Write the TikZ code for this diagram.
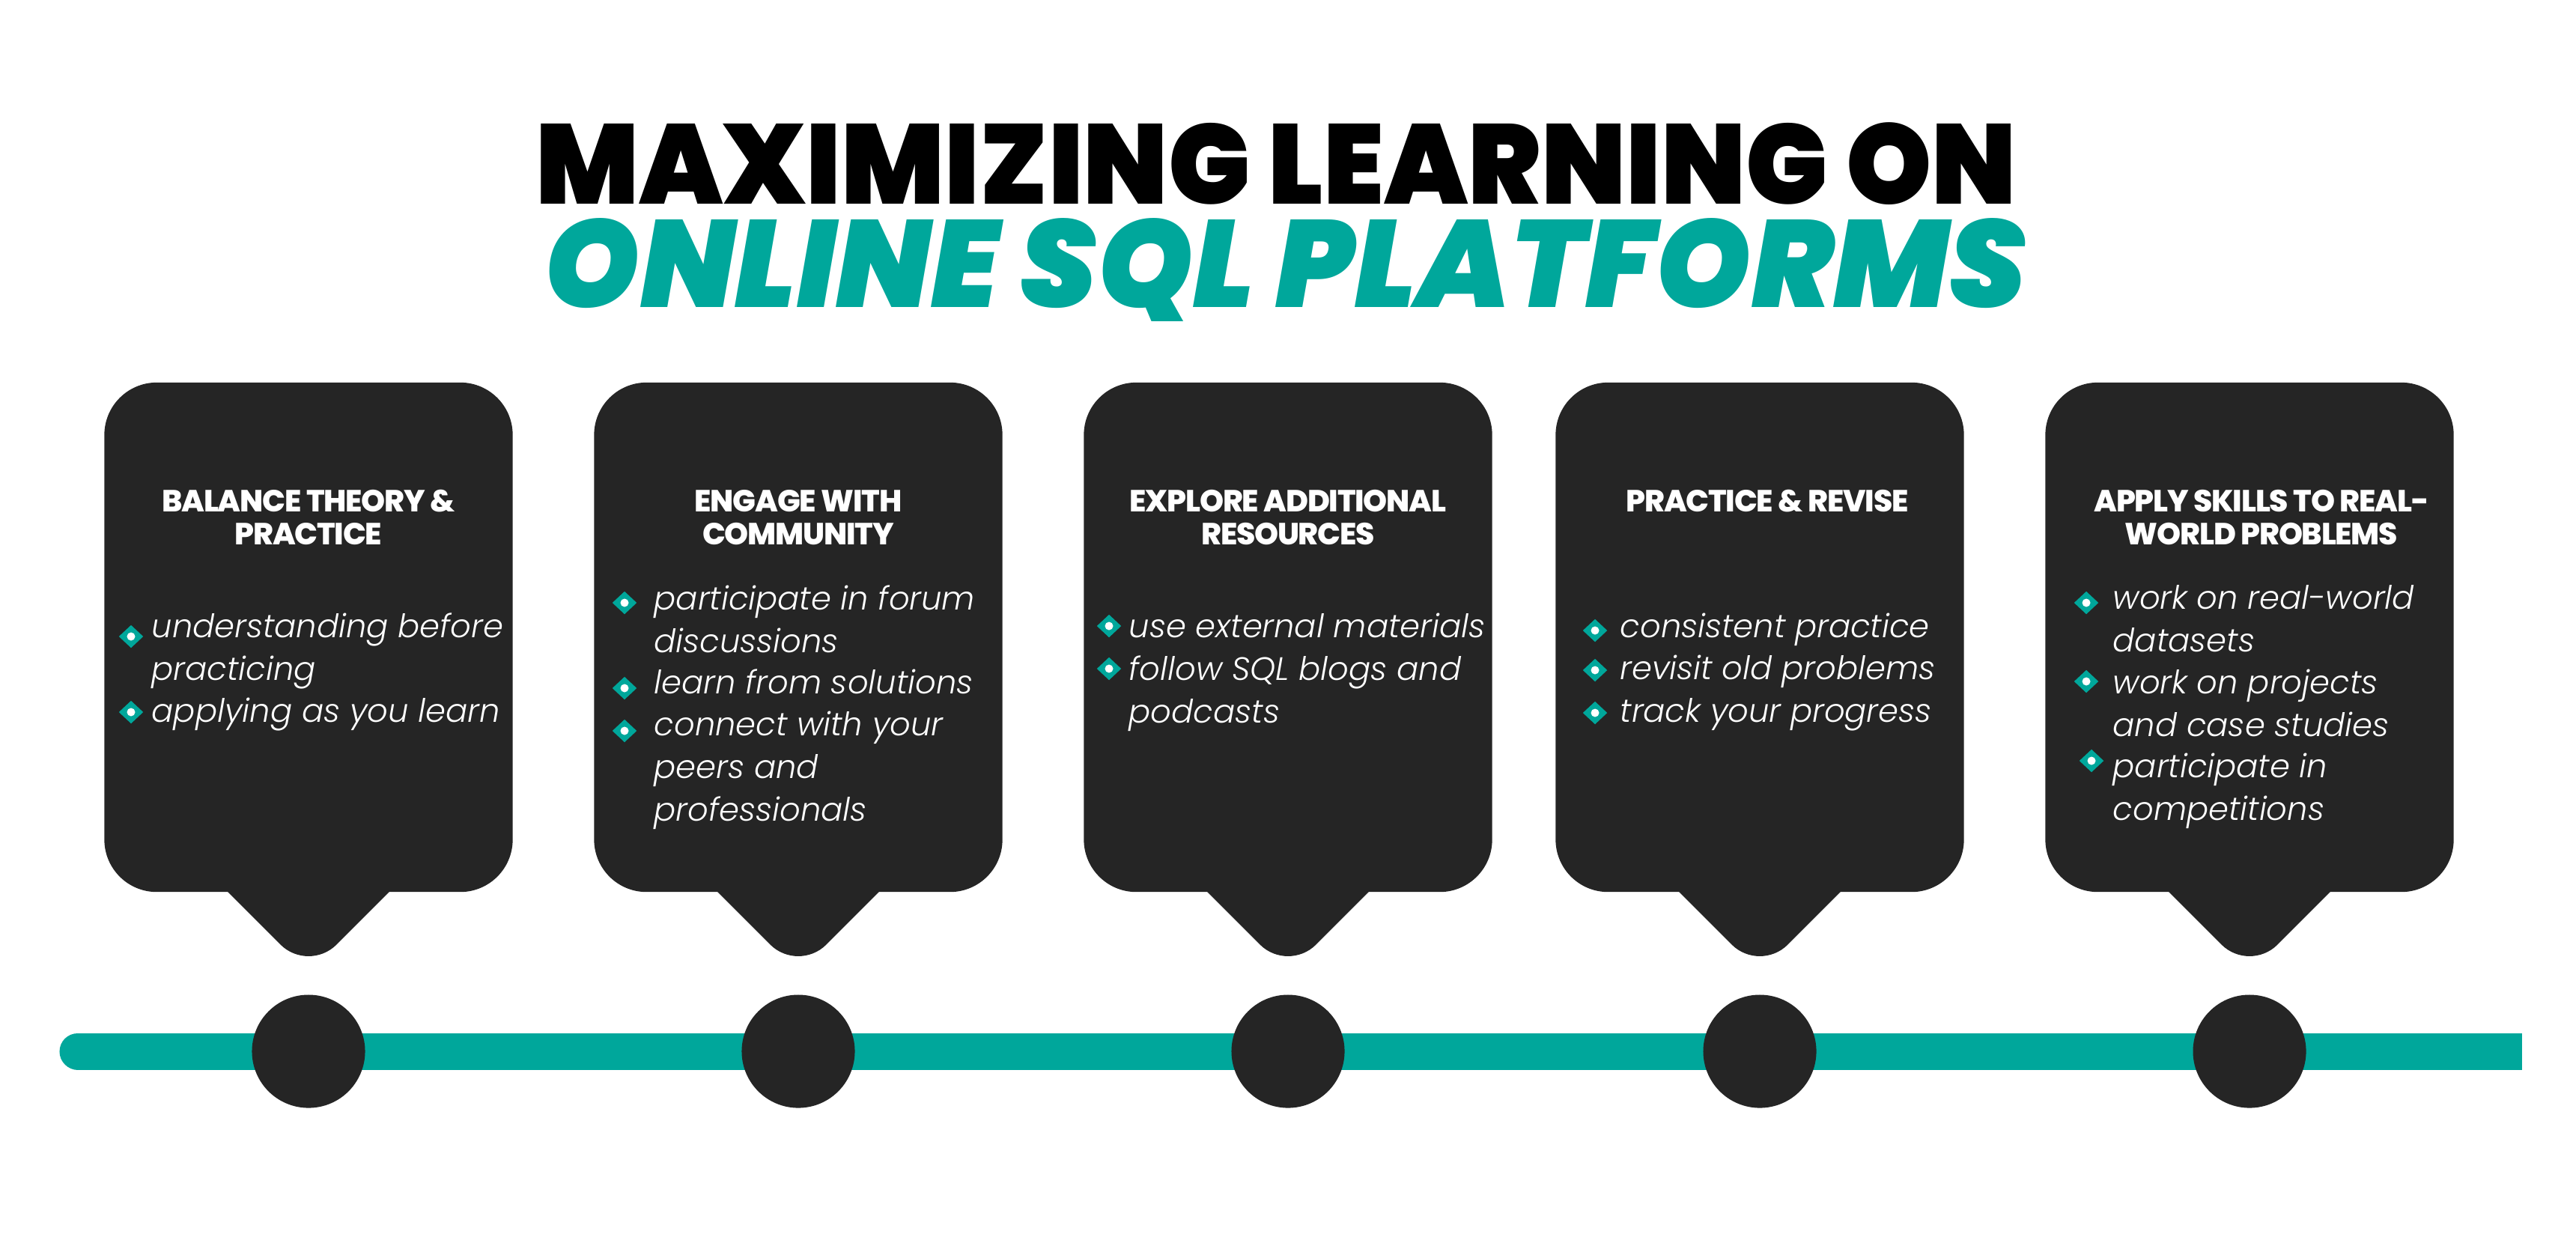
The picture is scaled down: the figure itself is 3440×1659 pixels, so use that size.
\documentclass[tikz,border=0pt]{standalone}
\usepackage{fontspec}
\usepackage{tikz}
\usetikzlibrary{calc,shapes.geometric}
\usepackage{color}
\newfontfamily\titlefont{Poppins}[UprightFont=* Black,ItalicFont=* Black Italic]
\newfontfamily\headfont{Poppins}[UprightFont=* ExtraBold,LetterSpace=-3]
\newfontfamily\itemfont{Poppins}[UprightFont=* Light,ItalicFont=* Light Italic]
\definecolor{boxgray}{HTML}{252525}
\definecolor{sqlteal}{HTML}{00A79B}
\newcommand{\tipsize}{.53cm}
\newcommand{\boxtip}[1]{\fill[boxgray, rounded corners=\tipsize] ($(#1.south)+(-167,-60)$) -- ($(#1.south)+(0,107)$) -- ($(#1.south)+(167,-60)$) -- cycle;}
\newcommand{\bulletmark}[1]{\node (#1d) at (#1) [diamond, fill=sqlteal, inner sep=0pt, minimum width=.33cm, minimum height=.31cm] {};
  \node (#1w) at (#1) [circle, fill=white, inner sep=0pt, minimum size=.11cm] {};}
\tikzset{
  callout/.style={fill=boxgray, rounded corners=.7cm, minimum width=5.45cm, minimum height=6.8cm, inner sep=0pt},
  dotnode/.style={circle, fill=boxgray, minimum size=1.51cm, inner sep=0pt},
  headtext/.style={text=white, align=center, inner sep=0pt, font=\headfont\fontsize{11.6}{12.5}\selectfont},
  itemtext/.style={text=white, align=left, inner sep=0pt, anchor=north west, execute at begin node=\strut, font=\itemfont\itshape\fontsize{12.3}{16.2}\selectfont}
}

\begin{document}
\begin{tikzpicture}[x=.01cm,y=-.01cm]
    \useasboundingbox (0,0) rectangle (3440,1659);

      \node (title1) at (1704,272) [anchor=base, inner sep=0pt, text depth=0pt, font=\titlefont\fontsize{43}{43}\selectfont] {\scalebox{.961}[1]{MAXIMIZING LEARNING ON}};
      \node (title2) at (1717,410) [anchor=base, inner sep=0pt, text height=30pt, text=sqlteal, font=\titlefont\itshape\fontsize{47}{47}\selectfont] {\scalebox{.984}[1]{ONLINE SQL PLATFORMS}};

      % timeline
      \coordinate (l1) at (104,1404);
      \coordinate (l2) at (2035,1404);
      \coordinate (l3) at (3368,1404);
      \draw[sqlteal, line width=.49cm, line cap=round] (l1) -- (l2);
      \draw[sqlteal, line width=.49cm] (l2) -- (l3);

      \node (c1) at (412,1404) [dotnode] {};
      \node (c2) at (1066,1404) [dotnode] {};
      \node (c3) at (1720,1404) [dotnode] {};
      \node (c4) at (2350,1404) [dotnode] {};
      \node (c5) at (3004,1404) [dotnode] {};

      \node (b1) at (412,851) [callout] {};
      \node (b2) at (1066,851) [callout] {};
      \node (b3) at (1720,851) [callout] {};
      \node (b4) at (2350,851) [callout] {};
      \node (b5) at (3004,851) [callout] {};
      \boxtip{b1} \boxtip{b2} \boxtip{b3} \boxtip{b4} \boxtip{b5}

      \node (h1) at (412,691) [headtext] {BALANCE THEORY \&\\PRACTICE};
      \node (h2) at (1066,691) [headtext] {ENGAGE WITH\\COMMUNITY};
      \node (h3) at (1720,691) [headtext] {EXPLORE ADDITIONAL\\RESOURCES};
      \node (h4) at (2360,669) [headtext] {PRACTICE \& REVISE};
      \node (h5) at (3020,691) [headtext] {APPLY SKILLS TO REAL-\\WORLD PROBLEMS};

      % first box
      \coordinate (p11) at (175,850);
      \coordinate (p12) at (175,951);
      \bulletmark{p11} \bulletmark{p12}
      \node (t11) at (202,818) [itemtext] {understanding before\\practicing};
      \node (t12) at (202,924) [itemtext] {applying as you learn};

      % second box
      \coordinate (p21) at (834,805);
      \coordinate (p22) at (834,919);
      \coordinate (p23) at (834,976);
      \bulletmark{p21} \bulletmark{p22} \bulletmark{p23}
      \node (t21) at (873,781) [itemtext] {participate in forum\\discussions};
      \node (t22) at (873,886) [itemtext] {learn from solutions};
      \node (t23) at (873,949) [itemtext] {connect with your\\peers and\\professionals};

      % third box
      \coordinate (p31) at (1481,836);
      \coordinate (p32) at (1481,893);
      \bulletmark{p31} \bulletmark{p32}
      \node (t31) at (1507,811) [itemtext] {use external materials};
      \node (t32) at (1507,875) [itemtext] {follow SQL blogs and\\podcasts};

      % fourth box
      \coordinate (p41) at (2130,842);
      \coordinate (p42) at (2130,895);
      \coordinate (p43) at (2130,952);
      \bulletmark{p41} \bulletmark{p42} \bulletmark{p43}
      \node (t41) at (2163,811) [itemtext] {consistent practice};
      \node (t42) at (2163,867) [itemtext] {revisit old problems};
      \node (t43) at (2163,924) [itemtext] {track your progress};

      % fifth box
      \coordinate (p51) at (2786,805);
      \coordinate (p52) at (2786,910);
      \coordinate (p53) at (2793,1016);
      \bulletmark{p51} \bulletmark{p52} \bulletmark{p53}
      \node (t51) at (2821,781) [itemtext] {work on real-world\\datasets};
      \node (t52) at (2821,893) [itemtext] {work on projects\\and case studies};
      \node (t53) at (2821,1005) [itemtext] {participate in\\competitions};

  \end{tikzpicture}
\end{document}
